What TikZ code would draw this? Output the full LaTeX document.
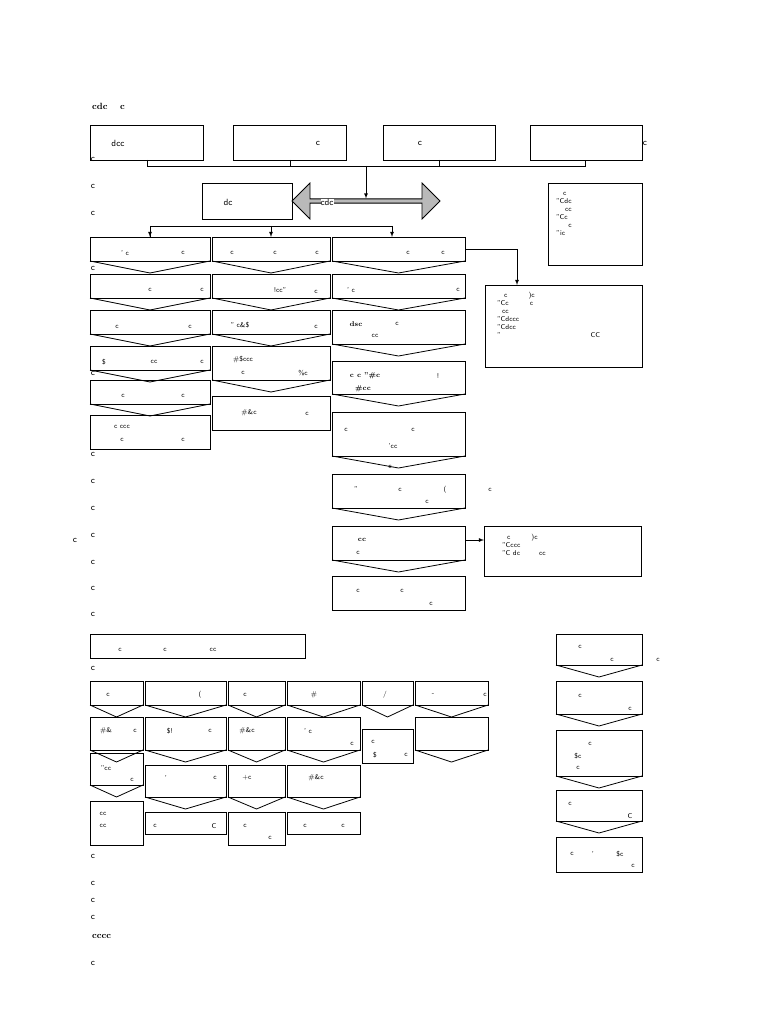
\documentclass[tikz,border=0pt]{standalone}
\usetikzlibrary{shapes.arrows}
\begin{document}
\begin{tikzpicture}[x=1pt,y=-1pt,
 bx/.style={draw,thick},
 tx/.style={font=\sffamily\scriptsize,inner sep=0pt},
 chev/.style={draw,thick},
 arr/.style={-latex,thick}]
\useasboundingbox (0,0) rectangle (768,1024);
\newcommand{\cb}[5]{% name x1 y1 x2 y2 with chevron
 \draw[bx] (#2,#3) rectangle (#4,#5);
 \draw[chev] (#2,#5) -- ({(#2+#4)/2},#5+12) -- (#4,#5);
 \coordinate (#1) at ({(#2+#4)/2},#3);}
\newcommand{\pb}[5]{\draw[bx] (#2,#3) rectangle (#4,#5); \coordinate (#1) at ({(#2+#4)/2},#3);}
\node[tx,font=\bfseries\small,anchor=west] (h1) at (92,106) {cdc\quad\ c};
\node[tx,font=\bfseries\small,anchor=west] (h2) at (92,936) {cccc};
% top row
\pb{t1}{90}{125}{203}{160}\pb{t2}{233}{125}{346}{160}\pb{t3}{383}{125}{495}{160}\pb{t4}{530}{125}{642}{160}
\node[tx,font=\sffamily\small] at (118,143) {dcc};
\node[tx,font=\sffamily\small] at (318,143) {c};
\node[tx,font=\sffamily\small] at (420,143) {c};
\node[tx,font=\sffamily\small] at (645,143) {c};
\draw[thick] (147,160)--(147,166)--(585,166)--(585,160);
\draw[thick] (290,160)--(290,166) (439,160)--(439,166);
\draw[bx] (202,183) rectangle (292,219);
\node[tx,font=\sffamily\small] at (228,202) {dc};
\node[draw,thick,fill=gray!55,double arrow,double arrow head extend=3pt,minimum width=36pt,minimum height=148pt,inner sep=0pt] (g) at (366,201) {};
\node[tx,font=\sffamily\small,fill=white] at (327,202) {cdc};
\draw[arr] (366,166)--(g.north);
\draw[bx] (548,183) rectangle (642,265);
\node[tx,align=left,anchor=north west] at (556,192) {\quad c\\"Cdc\\ \hfill cc\\"Cc\\ \hfill c\\"\textsuperscript{}ic};
\draw[thick] (150,237)--(150,226)--(392,226);
\draw[arr] (150,226)--(150,237); \draw[arr] (271,226)--(271,237); \draw[arr] (392,226)--(392,237);
% col1
\cb{a1}{90}{237}{210}{261}\cb{a2}{90}{274}{210}{298}\cb{a3}{90}{310}{210}{334}\cb{a4}{90}{346}{210}{370}\cb{a5}{90}{380}{210}{404}\pb{a6}{90}{415}{210}{449}
\node[tx] at (125,253){' c}; \node[tx] at (183,253){c};
\node[tx] at (150,290){c}; \node[tx] at (202,290){c};
\node[tx] at (117,327){c}; \node[tx] at (190,327){c};
\node[tx] at (104,362){\$}; \node[tx] at (154,362){cc}; \node[tx] at (202,362){c};
\node[tx] at (123,396){c}; \node[tx] at (183,396){c};
\node[tx] at (122,427){c ccc}; \node[tx] at (122,440){c}; \node[tx] at (183,440){c};
% col2
\cb{b1}{212}{237}{330}{261}\cb{b2}{212}{274}{330}{298}\cb{b3}{212}{310}{330}{334}\cb{b4}{212}{346}{330}{380}\pb{b5}{212}{396}{330}{430}
\node[tx] at (232,253){c}; \node[tx] at (275,253){c}; \node[tx] at (317,253){c};
\node[tx] at (280,290){!cc"}; \node[tx] at (316,292){c};
\node[tx] at (240,325){" c\&\$}; \node[tx] at (316,327){c};
\node[tx] at (243,360){\#\$ccc}; \node[tx] at (243,373){c}; \node[tx] at (303,373){\%c};
\node[tx] at (249,413){\#\&c}; \node[tx] at (307,414){c};
% col3
\cb{c1}{332}{237}{465}{261}\cb{c2}{332}{274}{465}{298}\cb{c3}{332}{310}{465}{344}\cb{c4}{332}{361}{465}{394}\cb{c5}{332}{412}{465}{456}\cb{c6}{332}{474}{465}{508}\cb{c7}{332}{526}{465}{560}\pb{c8}{332}{576}{465}{610}
\node[tx] at (408,253){c}; \node[tx] at (443,253){c};
\node[tx] at (351,290){' c}; \node[tx] at (458,290){c};
\node[tx,font=\bfseries\scriptsize] at (356,324){dsc}; \node[tx] at (397,324){c}; \node[tx] at (375,336){cc};
\node[tx,font=\bfseries\scriptsize] at (365,376){c c "\#c}; \node[tx,font=\bfseries\scriptsize] at (363,389){\#cc}; \node[tx] at (438,376){!};
\node[tx] at (346,430){c}; \node[tx] at (413,430){c}; \node[tx] at (393,446){'cc}; \node[tx] at (390,467){c};
\node[tx] at (356,489){"}; \node[tx] at (400,490){c}; \node[tx] at (445,490){(}; \node[tx] at (490,490){c}; \node[tx] at (427,502){c};
\node[tx,font=\bfseries\scriptsize] at (362,540){cc}; \node[tx] at (358,553){c};
\node[tx] at (358,591){c}; \node[tx] at (402,591){c}; \node[tx] at (431,604){c};
\draw[thick] (465,249)--(517,249); \draw[arr] (517,249)--(517,285);
\draw[bx] (485,285) rectangle (642,367);
\node[tx,align=left,anchor=north west] at (497,292) {\quad c\qquad\quad )c\\"Cc\qquad\quad c\\ \ \ cc\\"Cdccc\\"Cdcc\\"\hspace{90pt}CC};
\draw[arr] (465,540)--(484,540);
\draw[bx] (484,526) rectangle (641,576);
\node[tx,align=left,anchor=north west] at (502,534) {\ \ c\qquad\quad )c\\"Cccc\\"C dc\qquad\ \ cc};
% left c column
\foreach \y in {159,186,213,268,373,454,481,508,535,562,588,614,668,856,883,900,917,963}
 \node[tx,font=\sffamily\small] at (93,\y) {c};
\node[tx,font=\sffamily\small] at (75,540) {c};
% lower
\draw[bx] (90,634) rectangle (305,658);
\node[tx] at (120,650){c}; \node[tx] at (165,650){c}; \node[tx] at (213,650){cc};
\cb{d1}{90}{681}{143}{705}\cb{d2}{145}{681}{226}{705}\cb{d3}{228}{681}{285}{705}\cb{d4}{287}{681}{360}{705}\cb{d5}{362}{681}{413}{705}\cb{d6}{415}{681}{488}{705}
\node[tx] at (108,695){c}; \node[tx] at (200,695){(}; \node[tx] at (245,695){c}; \node[tx] at (314,695){\#}; \node[tx] at (385,695){/}; \node[tx] at (433,695){-}; \node[tx] at (485,695){c};
\cb{e1}{90}{717}{143}{750}\cb{e2}{145}{717}{226}{750}\cb{e3}{228}{717}{285}{750}\cb{e4}{287}{717}{360}{750}\pb{e5}{362}{729}{413}{763}\cb{e6}{415}{717}{488}{750}
\node[tx] at (106,731){\#\&}; \node[tx] at (135,731){c}; \node[tx] at (170,731){\$!}; \node[tx] at (210,731){c};
\node[tx] at (247,731){\#\&c}; \node[tx] at (308,731){' c}; \node[tx] at (352,744){c};
\node[tx] at (373,742){c}; \node[tx] at (375,755){\$}; \node[tx] at (406,755){c};
\cb{f1}{90}{753}{143}{785}\cb{f2}{145}{765}{226}{797}\cb{f3}{228}{765}{285}{797}\cb{f4}{287}{765}{360}{797}
\node[tx] at (106,768){"cc}; \node[tx] at (132,780){c}; \node[tx] at (166,778){'}; \node[tx] at (215,778){c}; \node[tx] at (247,778){+c}; \node[tx] at (316,778){\#\&c};
\pb{g1}{90}{801}{143}{845}\pb{g2}{145}{812}{226}{834}\pb{g3}{228}{812}{285}{845}\pb{g4}{287}{812}{360}{834}
\node[tx] at (103,814){cc}; \node[tx] at (103,826){cc}; \node[tx] at (155,826){c}; \node[tx] at (214,826){C};
\node[tx] at (245,826){c}; \node[tx] at (270,838){c}; \node[tx] at (305,826){c}; \node[tx] at (343,826){c};
% right column
\cb{r1}{556}{634}{642}{665}\cb{r2}{556}{681}{642}{714}\cb{r3}{556}{730}{642}{776}\cb{r4}{556}{790}{642}{821}\pb{r5}{556}{837}{642}{872}
\node[tx] at (580,647){c}; \node[tx] at (612,660){c}; \node[tx] at (658,660){c};
\node[tx] at (580,696){c}; \node[tx] at (630,709){c};
\node[tx] at (590,744){c}; \node[tx] at (578,756){\$c}; \node[tx] at (578,768){c};
\node[tx] at (570,804){c}; \node[tx] at (630,816){C};
\node[tx] at (572,854){c}; \node[tx] at (593,854){'}; \node[tx] at (620,854){\$c}; \node[tx] at (633,866){c};
\end{tikzpicture}
\end{document}
